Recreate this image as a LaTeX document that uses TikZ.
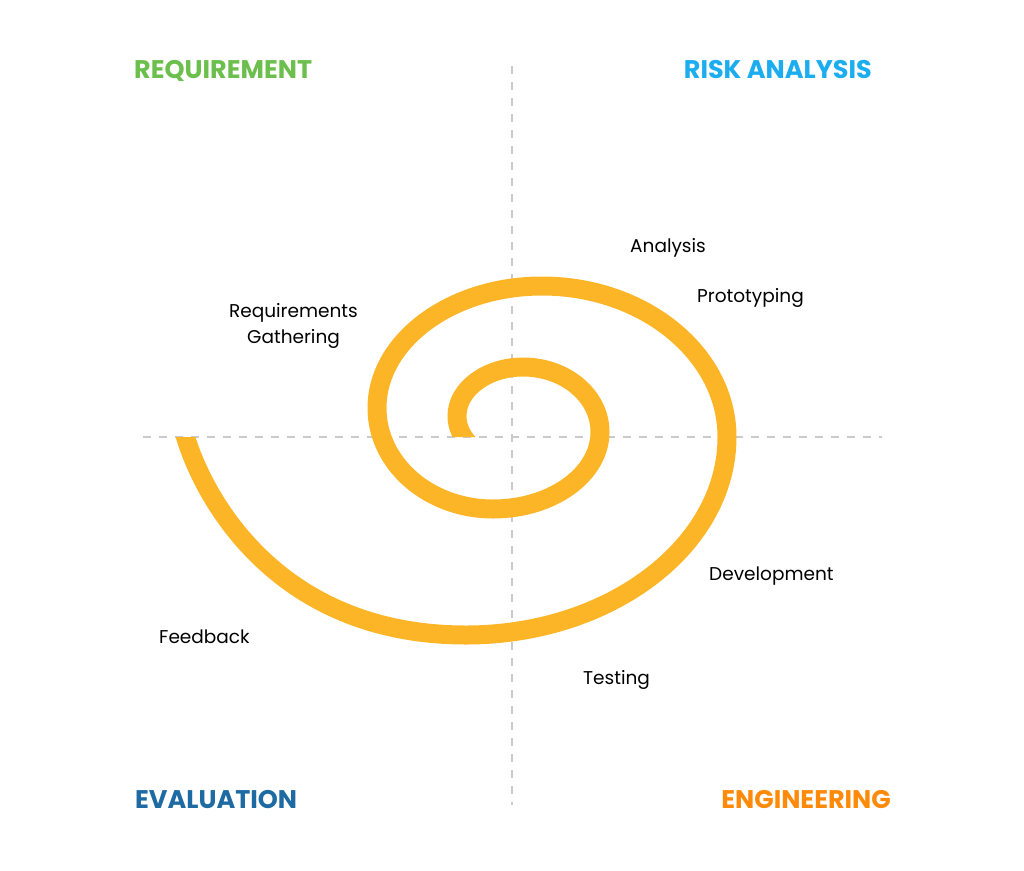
\documentclass[tikz,border=0pt]{standalone}
\usepackage{fontspec}
\setmainfont{Poppins}
\usepackage{xcolor}
\usepackage{tikz}
\usetikzlibrary{positioning}
\definecolor{spiralyellow}{HTML}{FDB528}
\definecolor{reqgreen}{HTML}{6CBF4C}
\definecolor{riskblue}{HTML}{1BADEF}
\definecolor{evalblue}{HTML}{1D6BA2}
\definecolor{engorange}{HTML}{FF8A0A}
\definecolor{axisgray}{HTML}{CACACA}
\tikzset{
  phase/.style={font=\fontsize{25.5}{30}\selectfont\bfseries, inner sep=0pt},
  task/.style={font=\fontsize{18.5}{26}\selectfont, inner sep=0pt, align=center},
  axis/.style={axisgray, line width=2pt, dash pattern=on 8pt off 8pt},
  spiral/.style={spiralyellow, line width=19pt},
}

\begin{document}
\begin{tikzpicture}[x=1pt, y=-1pt]
    \useasboundingbox (0,0) rectangle (1024,870);
    % quadrant axes
    \coordinate (top) at (512,66);
    \coordinate (bottom) at (512,805);
    \coordinate (left) at (143,437);
    \coordinate (right) at (882,437);
    \draw[axis] (top) -- (bottom);
    \draw[axis] (left) -- (right);
    % spiral, from the inside out (ends cut flat on the axis)
    \begin{scope}[even odd rule]
      \clip (0,0) rectangle (1024,870)
        (150,405) rectangle (220,437) (440,437) rectangle (485,455);
      \draw[spiral] (469,444) .. controls (461.2,435.9) and (457,426) .. (457,416)
        .. controls (457,389) and (487,367) .. (523,367)
        .. controls (565.5,367) and (600,396) .. (600,432)
        .. controls (600,474.5) and (552,509) .. (493,509)
        .. controls (429,509) and (377,464) .. (377,408)
        .. controls (377,341) and (451,286) .. (542,286)
        .. controls (644,286) and (727,354) .. (727,437)
        .. controls (727,546) and (610,635) .. (466,635)
        .. controls (279,635) and (205,501) .. (185.5,437) -- (181,422);
    \end{scope}
    % phases
    \node[phase, reqgreen, anchor=base west] (requirement) at (134,78) {REQUIREMENT};
    \node[phase, riskblue, anchor=base east] (risk) at (872,78) {RISK ANALYSIS};
    \node[phase, evalblue, anchor=base west] (evaluation) at (135,808) {EVALUATION};
    \node[phase, engorange, anchor=base east] (engineering) at (891,808) {ENGINEERING};
    % tasks
    \node[task, anchor=base] (gathering) at (293.5,343) {Requirements\\Gathering};
    \node[task, anchor=base west] (analysis) at (630,252) {Analysis};
    \node[task, anchor=base west] (prototyping) at (697,302) {Prototyping};
    \node[task, anchor=base west] (development) at (709,580) {Development};
    \node[task, anchor=base west] (testing) at (583,684) {Testing};
    \node[task, anchor=base west] (feedback) at (159,643) {Feedback};
  \end{tikzpicture}
\end{document}
